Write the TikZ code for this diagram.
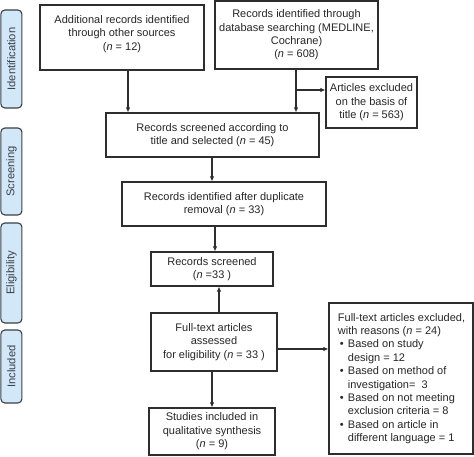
\documentclass[tikz,border=0pt]{standalone}
\usepackage{fontspec}
\setmainfont{Liberation Sans}
\usetikzlibrary{arrows.meta}
\definecolor{sidefill}{HTML}{D2E8F8}
\definecolor{sidedraw}{HTML}{3A4048}
\definecolor{boxdraw}{HTML}{2E2E2E}
\definecolor{txt}{HTML}{262626}
\tikzset{
  box/.style={draw=boxdraw, line width=1.1pt, inner sep=0pt, align=center, text=txt,
    font=\fontsize{11pt}{13.4pt}\selectfont},
  side/.style={draw=sidedraw, fill=sidefill, line width=1.1pt, rounded corners=4pt,
    inner sep=0pt, minimum width=21pt},
  sidetext/.style={rotate=90, text=sidedraw, font=\fontsize{11.2pt}{12pt}\selectfont},
  arr/.style={draw=boxdraw, line width=1.1pt, -{Latex[length=5pt,width=4.5pt]}},
  ln/.style={draw=boxdraw, line width=1.1pt}
}
\begin{document}
\begin{tikzpicture}[x=1pt,y=-1pt]
\useasboundingbox (0,0) rectangle (474,457);
% side labels
\node[side, minimum height=98pt] (s1) at (11.4,59) {};
\node[sidetext] (t1) at (s1.center) {Identification};
\node[side, minimum height=87pt] (s2) at (11.4,171.5) {};
\node[sidetext] (t2) at (s2.center) {Screening};
\node[side, minimum height=100pt] (s3) at (11.4,273) {};
\node[sidetext] (t3) at (s3.center) {Eligibility};
\node[side, minimum height=73pt] (s4) at (11.4,366.5) {};
\node[sidetext] (t4) at (s4.center) {Included};
% boxes
\node[box, minimum width=164pt, minimum height=65pt] (add) at (122,37.5)
  {Additional records identified\\through other sources\\(\textit{n} = 12)\\[-4pt]\mbox{}};
\node[box, minimum width=163pt, minimum height=68pt] (db) at (296.5,35)
  {Records identified through\\database searching (MEDLINE,\\Cochrane)\\(\textit{n} = 608)};
\node[box, minimum width=91pt, minimum height=51pt] (ex1) at (371.5,102.5)
  {Articles excluded\\on the basis of\\title (\textit{n} = 563)};
\node[box, minimum width=213pt, minimum height=44pt] (scr1) at (212.5,135)
  {Records screened according to\\title and selected (\textit{n} = 45)};
\node[box, minimum width=204pt, minimum height=44pt] (dup) at (224,204)
  {Records identified after duplicate\\removal (\textit{n} = 33)};
\node[box, minimum width=122pt, minimum height=34pt] (scr2) at (212,269)
  {Records screened\\(\textit{n} =33 )};
\node[box, minimum width=126pt, minimum height=58pt] (full) at (214,342)
  {Full-text articles\\assessed\\for eligibility (\textit{n} = 33 )};
\node[box, minimum width=126pt, minimum height=47pt] (stud) at (212,431.5)
  {Studies included in\\qualitative synthesis\\(\textit{n} = 9)};
\node[box, minimum width=144pt, minimum height=151pt, align=left] (ex2) at (401,378.5)
  {\hspace*{1pt}Full-text articles excluded,\\\hspace*{1pt}with reasons (\textit{n} = 24)\\
  \makebox[3pt][l]{}\makebox[8pt][l]{\textbullet}Based on study\\
  \makebox[11pt][l]{}design = 12\\
  \makebox[3pt][l]{}\makebox[8pt][l]{\textbullet}Based on method of\\
  \makebox[11pt][l]{}investigation=\ \ 3\\
  \makebox[3pt][l]{}\makebox[8pt][l]{\textbullet}Based on not meeting\\
  \makebox[11pt][l]{}exclusion criteria = 8\\
  \makebox[3pt][l]{}\makebox[8pt][l]{\textbullet}Based on article in\\
  \makebox[11pt][l]{}different language = 1};
% helper coordinates
\coordinate (xa) at (128,0);
\coordinate (xb) at (296,0);
\coordinate (br) at (296,90);
\coordinate (xc) at (212,0);
\coordinate (xd) at (215,0);
\coordinate (xe) at (219,0);
\coordinate (ye) at (0,349);
% connectors
\draw[arr] (add.south -| xa) -- (xa |- scr1.north);
\draw[arr] (db.south -| xb) -- (xb |- scr1.north);
\draw[arr] (br) -- (br -| ex1.west);
\draw[arr] (scr1.south -| xc) -- (xc |- dup.north);
\draw[arr] (dup.south -| xd) -- (xd |- scr2.north);
\draw[arr] (full.north -| xe) -- (xe |- scr2.south);
\draw[arr] (full.south -| xc) -- (xc |- stud.north);
\draw[arr] (full.east |- ye) -- (ex2.west |- ye);
\end{tikzpicture}
\end{document}
